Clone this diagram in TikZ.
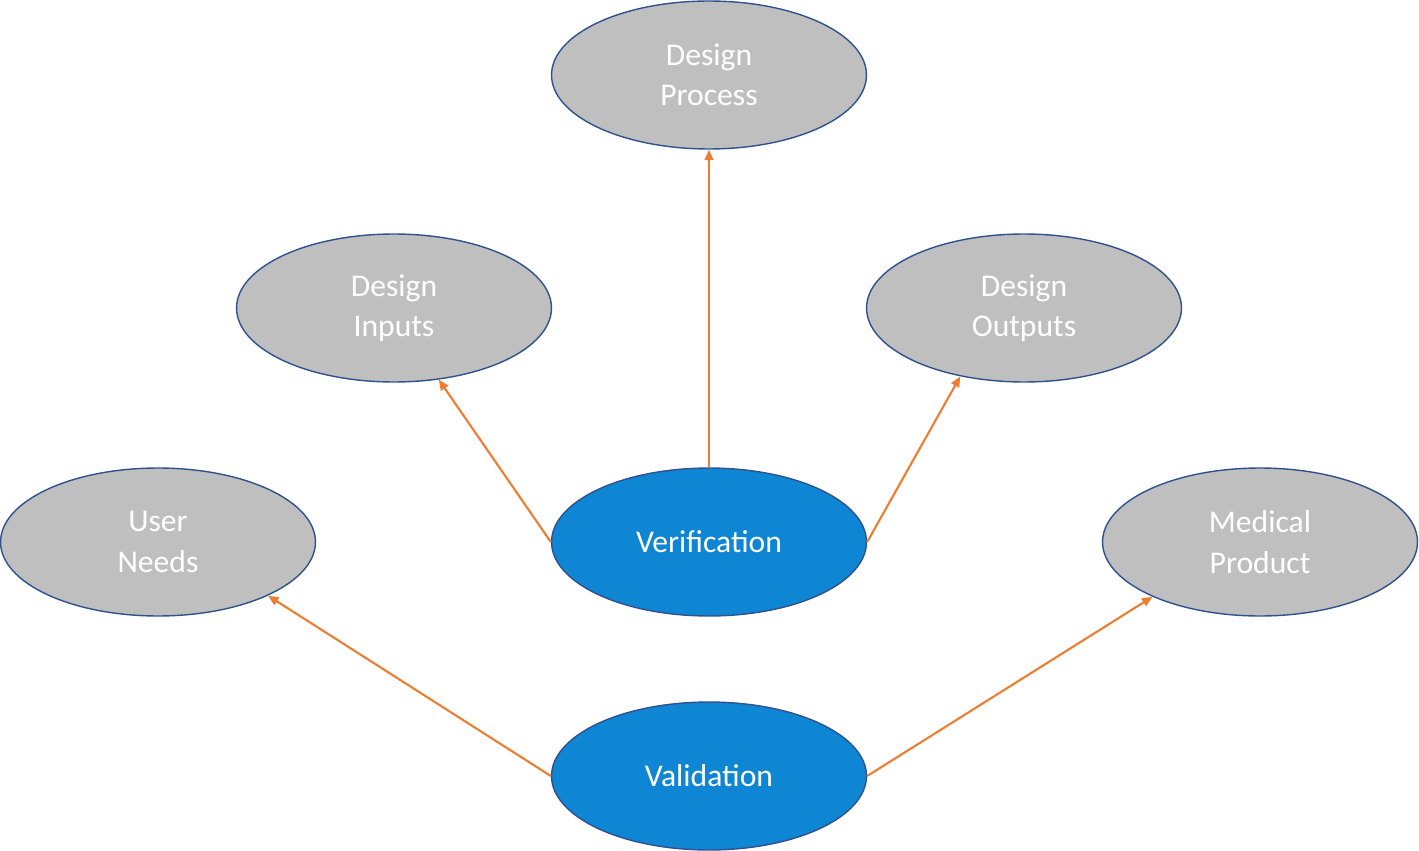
\documentclass[tikz,border=0pt]{standalone}
\usepackage{fontspec}
\setmainfont{Carlito}
\usetikzlibrary{shapes.geometric, arrows.meta, positioning}
\definecolor{ovalgray}{RGB}{191,191,191}
\definecolor{ovalblue}{RGB}{14,134,212}
\definecolor{ovalline}{RGB}{47,82,143}
\definecolor{linkorange}{RGB}{237,125,49}

\begin{document}
\begin{tikzpicture}[
    x=0.02cm, y=-0.02cm,
    oval/.style={ellipse, draw=ovalline, line width=0.8pt, fill=ovalgray, text=white, minimum width=6.3cm, minimum height=2.96cm, inner sep=0pt, align=center, font=\fontsize{18}{23}\selectfont},
    check/.style={oval, fill=ovalblue},
    arrow/.style={-{Triangle[length=6pt, width=5pt]}, draw=linkorange, line width=1.2pt}
]
\useasboundingbox (0,0) rectangle (1419,851);

\node[oval] (process) at (709,75) {Design\\Process};
\node[oval] (inputs) at (394,308) {Design\\Inputs};
\node[oval] (outputs) at (1024,308) {Design\\Outputs};
\node[oval] (needs) at (158,542) {User\\Needs};
\node[check] (verify) at (709,542) {Verification};
\node[oval] (product) at (1260,542) {Medical\\Product};
\node[check] (validate) at (709,776) {Validation};

\draw[arrow] (verify.north) -- (process.south);
\draw[arrow] (verify.west) -- (inputs.-58.6);
\draw[arrow] (verify.east) -- (outputs.-133.8);
\draw[arrow] (validate.west) -- (needs.-26);
\draw[arrow] (validate.east) -- (product.-153.6);

\end{tikzpicture}
\end{document}
